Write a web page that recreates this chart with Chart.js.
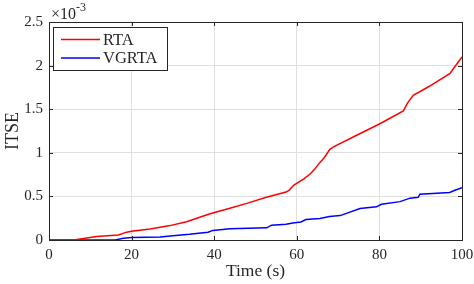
<!DOCTYPE html>
<html>
<head>
<meta charset="utf-8">
<script src="https://cdn.jsdelivr.net/npm/chart.js@4/dist/chart.umd.min.js"></script>
<style>
html,body{margin:0;padding:0;background:#fff;}
#wrap{width:474px;height:284px;position:relative;}
</style>
</head>
<body>
<div id="wrap"><canvas id="c" width="474" height="284"></canvas></div>
<script>
// Data (ITSE in units of 1e-3)
const rtaTime   = [0, 6, 8, 11.5, 16.8, 18.8, 20, 24.5, 29.3, 33.3, 36.5, 39, 43.8, 47.9, 52.6, 57.4, 58.1, 59.3, 61.7, 63.3, 64.3, 65.6, 66.6, 68, 69, 74, 80, 85.8, 86.8, 88.2, 92, 97.1, 98.3, 100];
const rtaValues = [0, 0, 0.015, 0.04, 0.057, 0.09, 0.1, 0.126, 0.165, 0.21, 0.26, 0.3, 0.364, 0.42, 0.49, 0.55, 0.57, 0.63, 0.70, 0.76, 0.81, 0.89, 0.94, 1.04, 1.07, 1.19, 1.33, 1.48, 1.57, 1.66, 1.76, 1.91, 1.99, 2.10];
const vgrtaTime   = [0, 16, 18, 20, 26.9, 30, 34, 38.5, 39.7, 43.8, 52.7, 53.9, 57.4, 59, 61, 62.2, 65.6, 67.9, 70.5, 75.3, 79.3, 80.5, 85, 87.4, 89.4, 89.8, 97, 98.3, 100];
const vgrtaValues = [0, 0, 0.02, 0.03, 0.035, 0.05, 0.065, 0.09, 0.11, 0.13, 0.14, 0.17, 0.18, 0.195, 0.207, 0.235, 0.246, 0.27, 0.28, 0.36, 0.38, 0.41, 0.44, 0.48, 0.49, 0.525, 0.545, 0.57, 0.6];
const seriesNames = ['RTA', 'VGRTA'];
const xTicks = [0, 20, 40, 60, 80, 100];
const yTicks = [0, 0.5, 1, 1.5, 2, 2.5];
const yTickLabels = ['0', '0.5', '1', '1.5', '2', '2.5'];
const xTitle = 'Time (s)';
const yTitle = 'ITSE';

const FONT = '"Liberation Serif", "Times New Roman", serif';
const AX = '#262626';

function pts(t, v){ return t.map((x,i)=>({x:x, y:v[i]})); }

const framePlugin = {
  id: 'frame',
  afterDatasetsDraw(chart){
    const ctx = chart.ctx, a = chart.chartArea;
    const xs = chart.scales.x, ys = chart.scales.y;
    ctx.save();
    ctx.strokeStyle = AX; ctx.lineWidth = 1;
    ctx.strokeRect(Math.round(a.left)+0.5, Math.round(a.top)+0.5, Math.round(a.right-a.left), Math.round(a.bottom-a.top));
    ctx.beginPath();
    xTicks.forEach(v=>{
      const px = Math.round(xs.getPixelForValue(v))+0.5;
      ctx.moveTo(px, a.bottom); ctx.lineTo(px, a.bottom-4);
      ctx.moveTo(px, a.top); ctx.lineTo(px, a.top+4);
    });
    yTicks.forEach(v=>{
      const py = Math.round(ys.getPixelForValue(v))+0.5;
      ctx.moveTo(a.left, py); ctx.lineTo(a.left+4, py);
      ctx.moveTo(a.right, py); ctx.lineTo(a.right-4, py);
    });
    ctx.stroke();
    // exponent label
    ctx.fillStyle = AX;
    ctx.textBaseline = 'alphabetic';
    ctx.font = '16px ' + FONT;
    ctx.fillText('\u00d710', a.left+2, a.top-3);
    const w = ctx.measureText('\u00d710').width;
    ctx.font = '12px ' + FONT;
    ctx.fillText('-3', a.left+2+w, a.top-11);
    // legend
    const lx = 53, ly = 27, lw = 114, lh = 43;
    ctx.fillStyle = '#fff';
    ctx.fillRect(lx, ly, lw, lh);
    ctx.strokeStyle = AX;
    ctx.strokeRect(lx+0.5, ly+0.5, lw, lh);
    const rows = [{c:'#ff0000', y:39.5}, {c:'#0000ff', y:58}];
    rows.forEach((r,i)=>{
      ctx.strokeStyle = r.c; ctx.lineWidth = 1.5;
      ctx.beginPath(); ctx.moveTo(61, r.y); ctx.lineTo(100, r.y); ctx.stroke();
      ctx.fillStyle = AX; ctx.font = '16.5px ' + FONT; ctx.textBaseline = 'middle';
      ctx.fillText(seriesNames[i], 103, r.y+1);
    });
    ctx.restore();
  }
};

new Chart(document.getElementById('c'), {
  type: 'line',
  data: {
    datasets: [
      {label: seriesNames[0], data: pts(rtaTime, rtaValues), borderColor: '#ff0000', borderWidth: 1.5, pointRadius: 0, tension: 0, fill: false},
      {label: seriesNames[1], data: pts(vgrtaTime, vgrtaValues), borderColor: '#0000ff', borderWidth: 1.5, pointRadius: 0, tension: 0, fill: false}
    ]
  },
  options: {
    responsive: false,
    animation: false,
    devicePixelRatio: 1,
    layout: {padding: {left: 0, right: 12, top: 22, bottom: 0}},
    plugins: {legend: {display: false}, tooltip: {enabled: false}},
    scales: {
      x: {
        type: 'linear', min: 0, max: 100,
        afterFit(s){ s.height = 44; s.paddingLeft = 0; s.paddingRight = 0; },
        afterBuildTicks(s){ s.ticks = xTicks.map(v=>({value:v})); },
        grid: {color: '#dfdfdf', drawTicks: false, lineWidth: 1},
        border: {display: false},
        ticks: {color: AX, font: {family: FONT, size: 15}, padding: 6, maxRotation: 0, callback: v=>String(v)},
        title: {display: true, text: xTitle, color: AX, font: {family: FONT, size: 17.5}, padding: {top: 0, bottom: 2}}
      },
      y: {
        type: 'linear', min: 0, max: 2.5,
        afterFit(s){ s.width = 49; s.paddingTop = 0; s.paddingBottom = 0; },
        afterBuildTicks(s){ s.ticks = yTicks.map(v=>({value:v})); },
        grid: {color: '#dfdfdf', drawTicks: false, lineWidth: 1},
        border: {display: false},
        ticks: {color: AX, font: {family: FONT, size: 15}, padding: 6, callback: (v)=>{ const i = yTicks.indexOf(v); return i>=0 ? yTickLabels[i] : ''; }},
        title: {display: true, text: yTitle, color: AX, font: {family: FONT, size: 18}, padding: {top: 2, bottom: 0}}
      }
    }
  },
  plugins: [framePlugin]
});
</script>
</body>
</html>
